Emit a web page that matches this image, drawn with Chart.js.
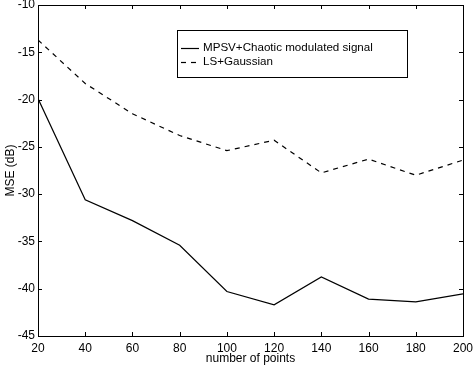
<!DOCTYPE html>
<html>
<head>
<meta charset="utf-8">
<script src="https://cdn.jsdelivr.net/npm/chart.js@4"></script>
<style>
  html, body { margin: 0; padding: 0; background: #fff; }
  #wrap { width: 474px; height: 366px; }
</style>
</head>
<body>
<div id="wrap"><canvas id="mse"></canvas></div>
<script>
// values
const points = [20, 40, 60, 80, 100, 120, 140, 160, 180, 200];
const mpsvChaotic = [-19.9, -30.6, -32.8, -35.4, -40.3, -41.7, -38.75, -41.1, -41.4, -40.55];
const lsGaussian = [-13.7, -18.3, -21.5, -23.8, -25.4, -24.3, -27.75, -26.3, -28.0, -26.4];
const xTicks = [20, 40, 60, 80, 100, 120, 140, 160, 180, 200];
const yTicks = [-10, -15, -20, -25, -30, -35, -40, -45];

const FONT = 'Liberation Sans, Arial, sans-serif';

// matlab-like frame with inward ticks on all four sides
const framePlugin = {
    id: 'frame',
    afterDraw(chart) {
        const ctx = chart.ctx, a = chart.chartArea;
        const xs = chart.scales.x, ys = chart.scales.y;
        ctx.save();
        ctx.strokeStyle = '#000';
        ctx.lineWidth = 1;
        ctx.strokeRect(a.left + 0.5, a.top + 0.5, a.right - a.left, a.bottom - a.top);
        ctx.beginPath();
        xTicks.forEach(v => {
            const px = Math.round(xs.getPixelForValue(v)) + 0.5;
            ctx.moveTo(px, a.bottom); ctx.lineTo(px, a.bottom - 4);
            ctx.moveTo(px, a.top); ctx.lineTo(px, a.top + 4);
        });
        yTicks.forEach(v => {
            const py = Math.round(ys.getPixelForValue(v)) + 0.5;
            ctx.moveTo(a.left, py); ctx.lineTo(a.left + 4, py);
            ctx.moveTo(a.right, py); ctx.lineTo(a.right - 4, py);
        });
        ctx.stroke();
        ctx.restore();
    }
};

// legend box inside the plot, built from the datasets
const boxLegend = {
    id: 'boxLegend',
    afterDraw(chart) {
        const ctx = chart.ctx;
        const x0 = 177, y0 = 30, w = 230, h = 47;
        ctx.save();
        ctx.fillStyle = '#fff';
        ctx.fillRect(x0, y0, w, h);
        ctx.strokeStyle = '#000';
        ctx.lineWidth = 1;
        ctx.strokeRect(x0 + 0.5, y0 + 0.5, w, h);
        ctx.font = '11.6px ' + FONT;
        ctx.textBaseline = 'middle';
        chart.data.datasets.forEach((ds, i) => {
            const y = y0 + 18 + i * 14;
            ctx.beginPath();
            ctx.setLineDash(ds.borderDash || []);
            ctx.lineWidth = ds.borderWidth;
            ctx.strokeStyle = ds.borderColor;
            ctx.moveTo(x0 + 4, y + 0.5);
            ctx.lineTo(x0 + 22, y + 0.5);
            ctx.stroke();
            ctx.setLineDash([]);
            ctx.fillStyle = '#000';
            ctx.fillText(ds.label, x0 + 26, y);
        });
        ctx.restore();
    }
};

new Chart(document.getElementById('mse'), {
    type: 'line',
    data: {
        labels: points,
        datasets: [{
            label: 'MPSV+Chaotic modulated signal',
            data: points.map((p, i) => ({x: p, y: mpsvChaotic[i]})),
            borderColor: '#000',
            borderWidth: 1.2,
            pointRadius: 0,
            tension: 0,
            fill: false
        }, {
            label: 'LS+Gaussian',
            data: points.map((p, i) => ({x: p, y: lsGaussian[i]})),
            borderColor: '#000',
            borderWidth: 1.2,
            borderDash: [5, 5],
            pointRadius: 0,
            tension: 0,
            fill: false
        }]
    },
    options: {
        responsive: true,
        maintainAspectRatio: false,
        animation: false,
        layout: { padding: { top: 5, right: 11, bottom: 0, left: 0 } },
        scales: {
            x: {
                type: 'linear',
                min: 20,
                max: 200,
                afterBuildTicks: s => { s.ticks = xTicks.map(v => ({value: v})); },
                afterFit: s => { s.height = 30; s.paddingRight = 0; s.paddingLeft = 0; },
                grid: { display: false, drawTicks: false },
                border: { display: false },
                ticks: { color: '#000', padding: 5, maxRotation: 0, font: { family: FONT, size: 12 } },
                title: { display: true, text: 'number of points', color: '#000', padding: 0, font: { family: FONT, size: 12 } }
            },
            y: {
                min: -45,
                max: -10,
                afterBuildTicks: s => { s.ticks = yTicks.map(v => ({value: v})); },
                afterFit: s => { s.width = 38; s.paddingTop = 0; s.paddingBottom = 0; },
                grid: { display: false, drawTicks: false },
                border: { display: false },
                ticks: { color: '#000', padding: 3, font: { family: FONT, size: 12 } },
                title: { display: true, text: 'MSE (dB)', color: '#000', padding: { top: 3, bottom: 0 }, font: { family: FONT, size: 12 } }
            }
        },
        plugins: {
            legend: { display: false },
            tooltip: { enabled: false }
        }
    },
    plugins: [framePlugin, boxLegend]
});
</script>
</body>
</html>
